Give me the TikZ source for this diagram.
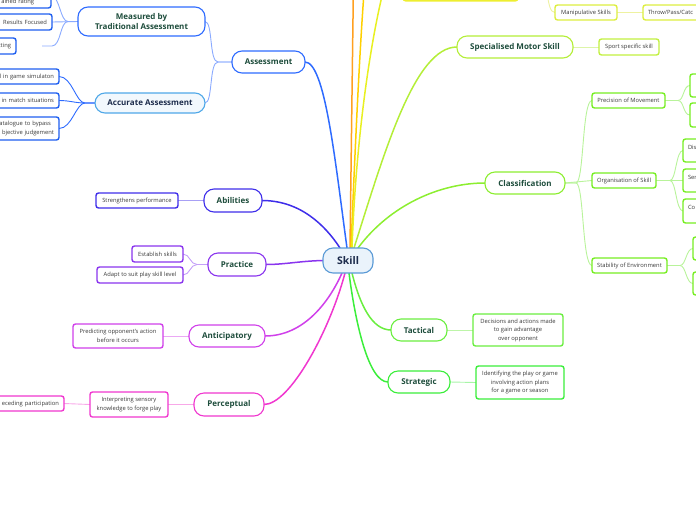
\documentclass[tikz,border=0pt]{standalone}
\usepackage{fontspec}
\setmainfont{Open Sans}
\usetikzlibrary{backgrounds}
\definecolor{tgreen}{HTML}{1E4D3C}
\definecolor{tgray}{HTML}{3A3A3A}
\definecolor{tnavy}{HTML}{1D2C4C}
\definecolor{skB}{HTML}{5A9AD6}
\definecolor{skF}{HTML}{EAF3FB}
\definecolor{cAss}{HTML}{2E6BFF}
\definecolor{cAssSub}{HTML}{1F5FF0}
\definecolor{cAcc}{HTML}{4FA8E8}
\definecolor{lAss}{HTML}{8AAAFF}
\definecolor{cAbi}{HTML}{3F2EEA}
\definecolor{lAbi}{HTML}{A8A0F5}
\definecolor{cPra}{HTML}{8A35EE}
\definecolor{lPra}{HTML}{C4A0F8}
\definecolor{cAnt}{HTML}{D040EA}
\definecolor{lAnt}{HTML}{EBA8F5}
\definecolor{cPer}{HTML}{F037CF}
\definecolor{lPer}{HTML}{F8A8E8}
\definecolor{cStr}{HTML}{3BEE3B}
\definecolor{lStr}{HTML}{A8F5A8}
\definecolor{cTac}{HTML}{6AEE40}
\definecolor{lTac}{HTML}{BDF5A8}
\definecolor{cCla}{HTML}{8CEE30}
\definecolor{cClaSub}{HTML}{77EE22}
\definecolor{lCla}{HTML}{B8F39A}
\definecolor{cSpe}{HTML}{B4EE38}
\definecolor{cSpeSub}{HTML}{C2F040}
\definecolor{lSpe}{HTML}{DDF5A8}
\definecolor{cMan}{HTML}{DDEE40}
\definecolor{lMan}{HTML}{EEF2A0}
\definecolor{cTopY}{HTML}{EEEE30}
\definecolor{cOra}{HTML}{FFA020}
\definecolor{cYel}{HTML}{FFD000}
\definecolor{cYG}{HTML}{E8F020}
\tikzset{
  topic/.style={draw, rounded corners=10pt, line width=1.1pt, fill=white,
    font=\fontsize{8}{10.5}\selectfont\bfseries, text=tgreen, align=center,
    inner sep=0pt, outer sep=0pt},
  subb/.style={draw, rounded corners=2.5pt, line width=1.4pt, fill=white,
    font=\fontsize{5.8}{8.5}\selectfont, text=tgray, align=center,
    inner xsep=5pt, inner ysep=2pt, outer sep=0pt},
  conn/.style={line width=1.5pt},
  lconn/.style={line width=0.9pt},
}
\begin{document}
\begin{tikzpicture}[x=1pt,y=-1pt]
\useasboundingbox (0,0) rectangle (696,520);
\clip (0,0) rectangle (696,520);

% ---------- nodes ----------
\node[topic, draw=skB, fill=skF, text=tnavy, font=\fontsize{10.5}{12}\selectfont\bfseries,
  minimum width=50, minimum height=25] (skill) at (348,260.5) {Skill};

\node[topic, draw=cAss, minimum width=73, minimum height=22] (assess) at (268.5,62) {Assessment};
\node[topic, draw=cAss, minimum width=127, minimum height=29] (meas) at (141.5,21.5) {Measured by\\Traditional Assessment};
\node[topic, draw=cAcc, fill=skF!60, text=tnavy, minimum width=110, minimum height=20] (accu) at (150,103) {Accurate Assessment};

\node[subb, draw=cAssSub, anchor=east, text width=100, align=right, minimum height=24,
  text height=16pt, text depth=2pt] (ained) at (51,-4) {ained rating\makebox[12pt]{}};
\node[subb, draw=cAssSub, anchor=east, text width=90, align=right, minimum height=16] (res) at (52,22) {Results Focused};
\node[subb, draw=cAssSub, anchor=east, text width=40, align=right, minimum height=16] (tting) at (16,46) {tting};
\coordinate (ttEnd) at (42,46);

\node[subb, draw=cAssSub, anchor=east, text width=90, align=right, minimum height=15] (g1) at (59,76.5) {l in game simulaton};
\node[subb, draw=cAssSub, anchor=east, text width=90, align=right, minimum height=15] (g2) at (59,100.5) {in match situations};
\node[subb, draw=cAssSub, anchor=east, text width=90, align=right, minimum height=23] (g3) at (59,128.5) {atalogue to bypass\makebox[3pt]{}\\bjective judgement};

\node[topic, draw=cAbi, minimum width=58, minimum height=23] (abil) at (233,200.5) {Abilities};
\node[subb, draw=cAbi, minimum width=82, minimum height=15] (stren) at (137,200.5) {Strengthens performance};

\node[topic, draw=cPra, minimum width=58, minimum height=23] (prac) at (237,264.5) {Practice};
\node[subb, draw=cPra, minimum width=51, minimum height=16] (estab) at (157.5,254) {Establish skills};
\node[subb, draw=cPra, minimum width=86, minimum height=16] (adapt) at (140,275) {Adapt to suit play skill level};

\node[topic, draw=cAnt, minimum width=76, minimum height=22] (antic) at (227,336) {Anticipatory};
\node[subb, draw=cAnt, minimum width=90, minimum height=24] (pred) at (118,336) {Predicting opponent's action\\before it occurs};

\node[topic, draw=cPer, minimum width=70, minimum height=23] (perc) at (229,404.5) {Perceptual};
\node[subb, draw=cPer, minimum width=78, minimum height=25] (interp) at (129,404.5) {Interpreting sensory\\knowledge to forge play};
\node[subb, draw=cPer, anchor=east, text width=90, align=right, minimum height=15] (eced) at (64,403.5) {eceding participation};

\node[topic, draw=cTac, minimum width=56, minimum height=22] (tact) at (419,330) {Tactical};
\node[subb, draw=cTac, minimum width=90, minimum height=32] (dec) at (518,330) {Decisions and actions made\\to gain advantage\\over opponent};
\node[topic, draw=cStr, minimum width=62, minimum height=22] (strat) at (419,382) {Strategic};
\node[subb, draw=cStr, minimum width=88, minimum height=33] (ident) at (520,382.5) {Identifying the play or game\\involving action plans\\for a game or season};

\node[topic, draw=cCla, minimum width=80, minimum height=22] (class) at (525,183) {Classification};
\node[subb, draw=cClaSub, minimum width=73, minimum height=15] (prec) at (628.5,100.5) {Precision of Movement};
\node[subb, draw=cClaSub, minimum width=64, minimum height=15] (org) at (624,180.5) {Organisation of Skill};
\node[subb, draw=cClaSub, minimum width=75, minimum height=15] (stab) at (629.5,265.5) {Stability of Environment};

\node[subb, draw=cClaSub, anchor=west, minimum width=40, minimum height=23] (p1) at (690,85.5) {};
\node[subb, draw=cClaSub, anchor=west, minimum width=40, minimum height=24] (p2) at (690,115) {};
\node[subb, draw=cClaSub, anchor=west, text width=50, align=left, minimum height=23,
  text height=8pt, text depth=11pt] (o1) at (683,150.5) {Dis};
\node[subb, draw=cClaSub, anchor=west, text width=50, align=left, minimum height=23,
  text height=8pt, text depth=11pt] (o2) at (683,180.5) {Ser};
\node[subb, draw=cClaSub, anchor=west, text width=50, align=left, minimum height=24,
  text height=8pt, text depth=12pt] (o3) at (683,211) {Co};
\node[subb, draw=cClaSub, anchor=west, minimum width=40, minimum height=23] (s1) at (693,248.5) {};
\node[subb, draw=cClaSub, anchor=west, minimum width=40, minimum height=23] (s2) at (693,283.5) {};

\node[topic, draw=cSpe, minimum width=116, minimum height=22] (spec) at (515,47) {Specialised Motor Skill};
\node[subb, draw=cSpeSub, minimum width=60, minimum height=16] (sport) at (629,47) {Sport specific skill};

\node[subb, draw=cMan, minimum width=62, minimum height=15] (manip) at (586,12.5) {Manipulative Skills};
\node[subb, draw=cMan, anchor=west, text width=60, align=left, minimum height=15] (throw) at (643,12.5) {Throw/Pass/Catc};
\coordinate (manP) at (547,-6);

\node[subb, draw=cTopY, anchor=south west, minimum width=115, minimum height=26] (topy) at (403,0.8) {};

\coordinate (oTop) at (353.5,-20);
\coordinate (yTop) at (365,-20);
\coordinate (ygTop) at (386,-20);

% ---------- connectors (behind nodes) ----------
\begin{scope}[on background layer]
% main branches from Skill
\draw[conn, cOra] ([xshift=2pt]skill.north) -- (oTop);
\draw[conn, cYel] ([xshift=3pt]skill.north) .. controls (355,150) and (360,40) .. (yTop);
\draw[conn, cYG] ([xshift=4pt]skill.north) .. controls (356,140) and (370,40) .. (ygTop);
\draw[conn, cSpe] ([xshift=6pt]skill.north) .. controls (385,150) and (415,47) .. (spec.west);
\draw[conn, cCla] ([xshift=10pt]skill.north) .. controls (390,205) and (440,183) .. (class.west);
\draw[conn, cAss] ([xshift=-1pt]skill.north) .. controls (335,160) and (325,62) .. (assess.east);
\draw[conn, cAbi] ([xshift=-8pt]skill.north) .. controls (325,225) and (300,200.5) .. (abil.east);
\draw[conn, cPra] (skill.west) .. controls (300,261) and (285,264.5) .. (prac.east);
\draw[conn, cAnt] ([xshift=-6pt]skill.south) .. controls (330,300) and (305,336) .. (antic.east);
\draw[conn, cPer] ([xshift=-3pt]skill.south) .. controls (330,330) and (290,404.5) .. (perc.east);
\draw[conn, cTac] ([xshift=4pt]skill.south) .. controls (360,305) and (372,330) .. (tact.west);
\draw[conn, cStr] ([xshift=1pt]skill.south) .. controls (355,320) and (368,382) .. (strat.west);

% Assessment subtree
\draw[lconn, lAss] (meas.east) .. controls (213,21.5) and (209,62) .. (218,62) -- (assess.west);
\draw[lconn, lAss] (accu.east) .. controls (213,103) and (209,62) .. (218,62) -- (assess.west);
\draw[lconn, lAss] (ained.east) .. controls (60,-4) and (60,21.5) .. (68,21.5) -- (meas.west);
\draw[lconn, lAss] (res.east) -- (meas.west);
\draw[lconn, lAss] (ttEnd) -- (52,46) .. controls (61,46) and (60,21.5) .. (68,21.5) -- (meas.west);
\draw[lconn, cAss] (g1.east) .. controls (72,76.5) and (76,103) .. (85,103) -- (accu.west);
\draw[lconn, cAss] (g2.east) .. controls (70,100.5) and (75,103) .. (85,103) -- (accu.west);
\draw[lconn, cAss] (g3.east) .. controls (72,128.5) and (76,103) .. (85,103) -- (accu.west);

% left subtrees
\draw[lconn, lAbi] (stren.east) -- (abil.west);
\draw[lconn, lPra] (estab.east) .. controls (190,254) and (190,264.5) .. (197,264.5) -- (prac.west);
\draw[lconn, lPra] (adapt.east) .. controls (190,275) and (190,264.5) .. (197,264.5) -- (prac.west);
\draw[lconn, lAnt] (pred.east) -- (antic.west);
\draw[lconn, lPer] (interp.east) -- (perc.west);
\draw[lconn, lPer] (eced.east) -- (interp.west);

% right subtrees
\draw[lconn, lTac] (tact.east) -- (dec.west);
\draw[lconn, lStr] (strat.east) -- (ident.west);
\draw[lconn, lSpe] (spec.east) -- (sport.west);
\draw[lconn, lMan] (manip.east) -- (throw.west);
\draw[lconn, lMan] (manip.west) .. controls (550,12.5) and (549,4) .. (manP);

\draw[lconn, lCla] (class.east) -- (576,183) .. controls (584,183) and (582,100.5) .. (prec.west);
\draw[lconn, lCla] (class.east) -- (org.west);
\draw[lconn, lCla] (class.east) -- (576,183) .. controls (584,183) and (582,265.5) .. (stab.west);

\draw[lconn, lCla] (prec.east) -- (678,100.5) .. controls (684,100.5) and (683,85.5) .. (p1.west);
\draw[lconn, lCla] (prec.east) -- (678,100.5) .. controls (684,100.5) and (683,115) .. (p2.west);
\draw[lconn, lCla] (org.east) -- (670,180.5) .. controls (676,180.5) and (676,150.5) .. (o1.west);
\draw[lconn, lCla] (org.east) -- (o2.west);
\draw[lconn, lCla] (org.east) -- (670,180.5) .. controls (676,180.5) and (676,211) .. (o3.west);
\draw[lconn, lCla] (stab.east) -- (680,265.5) .. controls (686,265.5) and (686,248.5) .. (s1.west);
\draw[lconn, lCla] (stab.east) -- (680,265.5) .. controls (686,265.5) and (686,283.5) .. (s2.west);
\end{scope}
\end{tikzpicture}
\end{document}
